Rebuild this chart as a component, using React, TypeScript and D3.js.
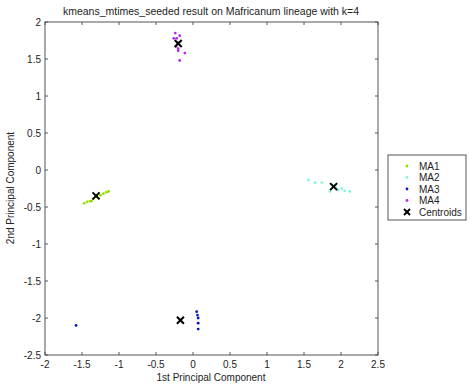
import React from "react";
import * as d3 from "d3";

const title = "kmeans_mtimes_seeded result on Mafricanum lineage with k=4";
const xTicks = [-2, -1.5, -1, -0.5, 0, 0.5, 1, 1.5, 2, 2.5];
const yTicks = [2, 1.5, 1, 0.5, 0, -0.5, -1, -1.5, -2, -2.5];

const ma1: [number, number][] = [
  [-1.47, -0.45], [-1.43, -0.43], [-1.39, -0.42], [-1.35, -0.39],
  [-1.3, -0.36], [-1.25, -0.34], [-1.21, -0.32], [-1.17, -0.3],
  [-1.14, -0.29], [-1.37, -0.42], [-1.28, -0.38],
];
const ma2: [number, number][] = [
  [1.56, -0.135], [1.65, -0.17], [1.74, -0.17], [1.85, -0.29], [1.93, -0.24],
  [2.01, -0.25], [2.05, -0.28], [2.12, -0.29], [1.96, -0.27], [1.88, -0.2],
];
const ma3: [number, number][] = [
  [-1.58, -2.1], [0.05, -1.915], [0.06, -1.96], [0.07, -2.0], [0.07, -2.07], [0.07, -2.15],
];
const ma4: [number, number][] = [
  [-0.24, 1.85], [-0.18, 1.815], [-0.26, 1.78], [-0.22, 1.78], [-0.23, 1.67],
  [-0.2, 1.61], [-0.11, 1.58], [-0.18, 1.48], [-0.2, 1.64], [-0.21, 1.72],
];
const centroids: [number, number][] = [
  [-1.31, -0.35], [1.9, -0.225], [-0.17, -2.03], [-0.2, 1.71],
];

const seriesNames = ["MA1", "MA2", "MA3", "MA4"];
const seriesColors = ["#8fe000", "#7ff5e0", "#0a14c8", "#b62ae8"];
const seriesData = [ma1, ma2, ma3, ma4];

export default function App() {
  const W = 474, H = 385;
  const x = d3.scaleLinear().domain([-2, 2.5]).range([45, 378]);
  const y = d3.scaleLinear().domain([-2.5, 2]).range([355, 22]);
  const font = "Arial, 'Liberation Sans', sans-serif";
  const axisColor = "#555";
  const tl = 3;
  const fmt = (v: number) => String(v);
  const cross = (cx: number, cy: number, s: number, key?: any) => (
    <g key={key} stroke="#000" strokeWidth={2}>
      <line x1={cx - s} y1={cy - s} x2={cx + s} y2={cy + s} />
      <line x1={cx - s} y1={cy + s} x2={cx + s} y2={cy - s} />
    </g>
  );
  const legendY = [166, 177.5, 189, 200.5, 212];
  return (
    <svg width={W} height={H} style={{ position: "absolute", left: 0, top: 0, background: "#fff" }} fontFamily={font}>
      <rect x={0} y={0} width={W} height={H} fill="#fff" />
      <text x={211} y={15} fontSize={10.5} textAnchor="middle" fill="#222">{title}</text>
      {xTicks.map((t) => (
        <g key={"x" + t}>
          <line x1={x(t)} x2={x(t)} y1={355} y2={355 - tl} stroke={axisColor} />
          <line x1={x(t)} x2={x(t)} y1={22} y2={22 + tl} stroke={axisColor} />
          <text x={x(t)} y={368} fontSize={10} textAnchor="middle" fill="#222">{fmt(t)}</text>
        </g>
      ))}
      {yTicks.map((t) => (
        <g key={"y" + t}>
          <line x1={45} x2={45 + tl} y1={y(t)} y2={y(t)} stroke={axisColor} />
          <line x1={378} x2={378 - tl} y1={y(t)} y2={y(t)} stroke={axisColor} />
          <text x={41} y={y(t) + 3.5} fontSize={10} textAnchor="end" fill="#222">{fmt(t)}</text>
        </g>
      ))}
      <rect x={45} y={22} width={333} height={333} fill="none" stroke={axisColor} strokeWidth={1} />
      <text x={211} y={381} fontSize={10} textAnchor="middle" fill="#222">1st Principal Component</text>
      <text transform={`translate(14,188) rotate(-90)`} fontSize={10} textAnchor="middle" fill="#222">2nd Principal Component</text>
      {seriesData.map((d, i) => (
        <g key={i} fill={seriesColors[i]}>
          {d.map((p, j) => (
            <circle key={j} cx={x(p[0])} cy={y(p[1])} r={1.4} />
          ))}
        </g>
      ))}
      {centroids.map((c, i) => cross(x(c[0]), y(c[1]), 3.5, i))}
      <rect x={388} y={155} width={78} height={65} fill="#fff" stroke={axisColor} />
      {seriesNames.map((n, i) => (
        <g key={n}>
          <circle cx={407} cy={legendY[i]} r={1.4} fill={seriesColors[i]} />
          <text x={419} y={legendY[i] + 3.5} fontSize={10} fill="#222">{n}</text>
        </g>
      ))}
      {cross(407, legendY[4], 3, "lc")}
      <text x={419} y={legendY[4] + 3.5} fontSize={10} fill="#222">Centroids</text>
    </svg>
  );
}
